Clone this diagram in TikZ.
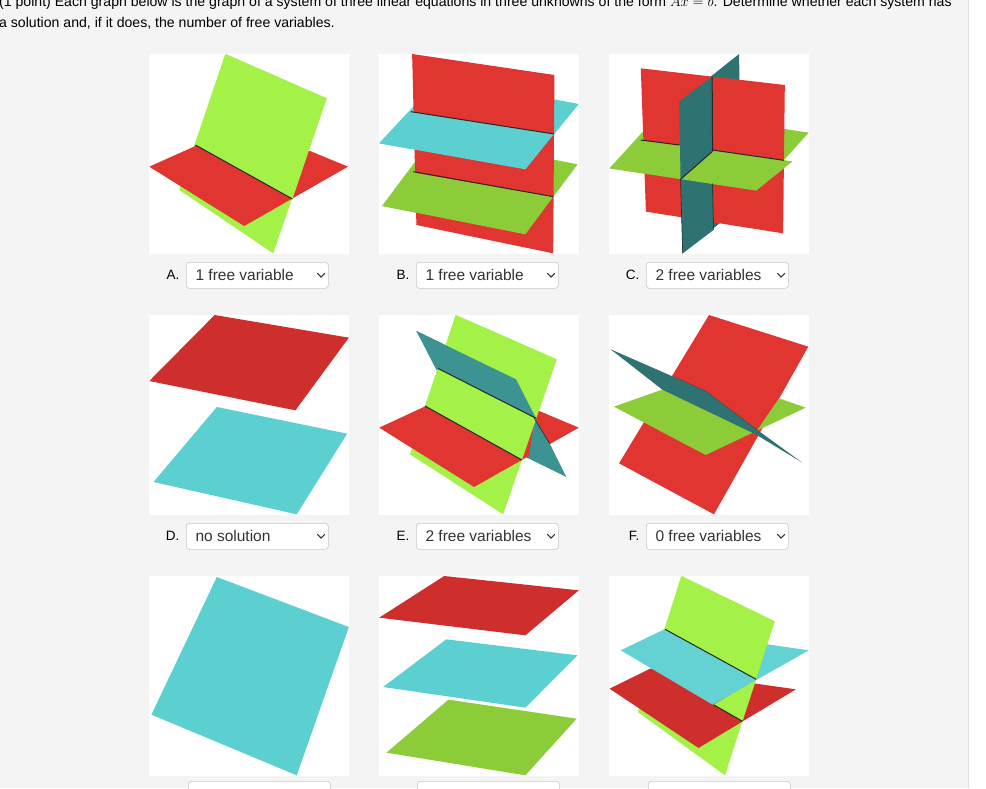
\documentclass[tikz,border=0pt]{standalone}
\usepackage{fontspec}
\setmainfont{Liberation Sans}
\begin{document}
\begin{tikzpicture}[x=1pt,y=-1pt,
  il/.style={draw=black!85,line width=1pt},
  dd/.style={draw=black!22,fill=white,rounded corners=3pt,line width=0.6pt,minimum width=142pt,minimum height=26pt,anchor=north west},
  ddt/.style={font=\fontsize{15.5}{17}\selectfont,text=black!80,anchor=west},
  lab/.style={font=\fontsize{13.5}{15}\selectfont,anchor=east},
  chev/.style={draw=black!80,line width=1.1pt,line cap=round,line join=round}]
\definecolor{bg}{HTML}{F4F4F4}
\definecolor{redA}{HTML}{E03530}
\definecolor{redB}{HTML}{CE2F2C}
\definecolor{limeG}{HTML}{A4F248}
\definecolor{grnG}{HTML}{8BCC38}
\definecolor{cyanC}{HTML}{5CD0D0}
\definecolor{tealT}{HTML}{2E7272}
\definecolor{tealU}{HTML}{3D9292}
\useasboundingbox (0,0) rectangle (986,788);
\fill[bg] (0,0) rectangle (968,788);
\fill[white] (969,0) rectangle (986,788);
\draw[black!12] (968.5,0) -- (968.5,788);
\node[anchor=west,font=\fontsize{14.1}{16}\selectfont,inner sep=0] (t1) at (-1,3) {(1 point) Each graph below is the graph of a system of three linear equations in three unknowns of the form $Ax=b$. Determine whether each system has};
\node[anchor=west,font=\fontsize{14.1}{16}\selectfont,inner sep=0] (t2) at (-1,23) {a solution and, if it does, the number of free variables.};
% panels
\foreach \px in {149,379,609}{\foreach \py in {54,315,576}{\fill[white] (\px,\py) rectangle ++(200,200);}}
% ---------- row 1
\begin{scope}[shift={(145,50)},xscale=0.4274,yscale=0.3333]
% A
\fill[limeG] (188,12)--(425,145)--(300,610)--(80,420)--cycle;
\fill[redA] (10,350)--(233,222)--(475,350)--(232,528)--cycle;
\fill[limeG] (188,12)--(425,145)--(345,447)--(118,285)--cycle;
\draw[il] (118,285)--(345,447);
% B
\fill[cyanC] (548,280)--(690,84)--(1015,162)--(890,358)--cycle;
\fill[grnG] (555,468)--(677,258)--(1012,343)--(890,553)--cycle;
\fill[redA] (625,12)--(958,75)--(955,610)--(635,525)--cycle;
\fill[cyanC] (548,280)--(617,185)--(957,252)--(890,358)--cycle;
\fill[grnG] (555,468)--(615,365)--(955,440)--(890,553)--cycle;
\draw[il] (622,185)--(957,252);
\draw[il] (628,365)--(955,440);
% C
\fill[tealT] (1250,155)--(1390,12)--(1395,467)--(1258,610)--cycle;
\fill[grnG] (1087,355)--(1210,181)--(1553,248)--(1430,422)--cycle;
\fill[redA] (1160,55)--(1497,105)--(1493,550)--(1172,485)--cycle;
\fill[tealT] (1250,155)--(1327,80)--(1330,540)--(1258,610)--cycle;
\fill[grnG] (1087,355)--(1152,268)--(1515,334)--(1430,422)--cycle;
\fill[tealT] (1250,155)--(1327,80)--(1327,305)--(1253,388)--cycle;
\draw[il] (1327,80)--(1328,305);
\draw[il] (1327,305)--(1253,388);
\draw[il] (1160,270)--(1250,285);
\draw[il] (1327,300)--(1495,331);
\draw[il,line width=0.6pt] (1253,388)--(1258,610);
\draw[il,line width=0.6pt] (1328,400)--(1330,540);
\end{scope}
% ---------- row 2
\begin{scope}[shift={(145,311)},xscale=0.4274,yscale=0.3333]
% D
\fill[redB] (10,210)--(163,12)--(477,80)--(352,298)--cycle;
\fill[cyanC] (20,513)--(168,288)--(473,368)--(355,610)--cycle;
% E
\fill[tealU] (635,60)--(868,205)--(985,497)--(752,352)--cycle;
\fill[limeG] (727,12)--(963,145)--(838,610)--(620,430)--cycle;
\fill[redA] (548,350)--(770,218)--(1015,350)--(770,528)--cycle;
\fill[tealU] (912,320)--(947,398)--(985,497)--(898,440)--cycle;
\fill[limeG] (727,12)--(963,145)--(882,447)--(655,285)--cycle;
\fill[tealU] (635,60)--(868,205)--(915,322)--(685,172)--cycle;
\draw[il] (655,285)--(882,447);
\draw[il] (685,172)--(915,322);
\draw[il,line width=0.6pt] (910,320)--(947,398);
\end{scope}
% F
\begin{scope}[shift={(609,315)},scale=0.3333]
\fill[redA] (300,0)--(598,95)--(315,598)--(30,445)--cycle;
\fill[grnG] (15,275)--(165,222)--(445,345)--(510,250)--(590,278)--(290,420)--cycle;
\fill[tealT] (5,103)--(195,186)--(290,228)--(445,345)--(580,443)--(440,358)--(160,224)--cycle;
\draw[black!70,line width=0.5pt] (195,186)--(290,228)--(445,345);
\end{scope}
% ---------- row 3
\begin{scope}[shift={(145,572)},xscale=0.4274,yscale=0.3333]
% G
\fill[cyanC] (168,15)--(477,165)--(355,610)--(15,428)--cycle;
% H
\fill[redB] (548,137)--(700,12)--(1015,55)--(890,190)--cycle;
\fill[cyanC] (557,345)--(705,202)--(1012,250)--(890,407)--cycle;
\fill[grnG] (565,542)--(710,383)--(1010,440)--(890,610)--cycle;
% I
\fill[limeG] (1255,12)--(1473,148)--(1357,610)--(1153,420)--cycle;
\fill[redB] (1087,350)--(1182,290)--(1523,352)--(1295,528)--cycle;
\fill[limeG] (1430,322)--(1398,448)--(1330,398)--cycle;
\fill[cyanC!95!white] (1113,235)--(1215,172)--(1553,235)--(1328,398)--cycle;
\fill[limeG] (1255,12)--(1473,148)--(1430,322)--(1217,172)--cycle;
\draw[il] (1217,172)--(1430,322);
\draw[il] (1330,398)--(1398,448);
\end{scope}
% ---------- dropdowns
\foreach \n/\L/\lx/\ly/\txt in {a/A./186/262/1 free variable, b/B./416/262/1 free variable, c/C./646/262/2 free variables, d/D./186/523/no solution, e/E./416/523/2 free variables, f/F./646/523/0 free variables}{
  \node[dd] (dd\n) at (\lx,\ly) {};
  \node[lab] (l\n) at ([xshift=-3pt]dd\n.west) {\L};
  \node[ddt] (x\n) at ([xshift=6pt]dd\n.west) {\txt};
  \draw[chev] ([xshift=-11pt,yshift=1.8pt]dd\n.east) -- ([xshift=-7.5pt,yshift=-1.8pt]dd\n.east) -- ([xshift=-4pt,yshift=1.8pt]dd\n.east);
}
\foreach \n/\lx in {g/188,h/417,i/648}{\node[dd] (dd\n) at (\lx,781) {};}
\end{tikzpicture}
\end{document}
